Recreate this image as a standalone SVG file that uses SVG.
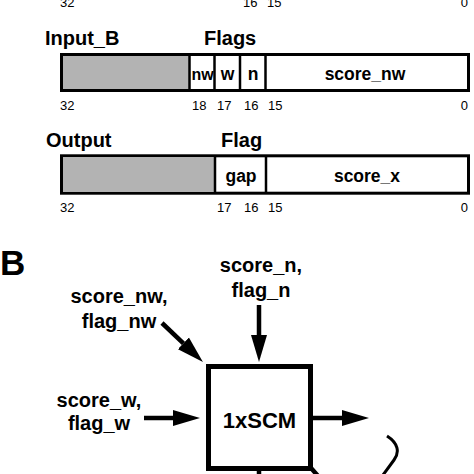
<svg xmlns="http://www.w3.org/2000/svg" width="474" height="474" viewBox="0 0 474 474">
<defs>
<style>
text{font-family:"Liberation Sans",Arial,sans-serif;fill:#000}
.t{font-weight:bold;font-size:20px}
.c{font-weight:bold;font-size:17.5px;text-anchor:middle}
.n{font-size:13px}
.bar{fill:#fff;stroke:#000;stroke-width:3}
.gray{fill:#b3b3b3;stroke:none}
.div{stroke:#000;stroke-width:2.5}
.conn{stroke:#000;stroke-width:4.5;fill:none}
</style>
<marker id="ah" markerUnits="userSpaceOnUse" markerWidth="28" markerHeight="17" refX="0" refY="8" orient="auto" viewBox="0 0 28 16">
<path d="M0,0 L27,8 L0,16 z" fill="#000"/>
</marker>
</defs>
<rect width="474" height="474" fill="#fff"/>

<g id="row-top">
<text class="n" x="60" y="7">32</text>
<text class="n" x="243" y="7">16</text>
<text class="n" x="267" y="7">15</text>
<text class="n" x="468" y="7" text-anchor="end">0</text>
</g>

<g id="input-b">
<text class="t" x="45" y="45">Input_B</text>
<text class="t" x="204" y="45">Flags</text>
<rect class="bar" x="61.5" y="54.5" width="407" height="36"/>
<rect class="gray" x="63" y="56" width="126" height="33"/>
<line class="div" x1="189.5" y1="54.5" x2="189.5" y2="90.5"/>
<line class="div" x1="214.5" y1="54.5" x2="214.5" y2="90.5"/>
<line class="div" x1="240" y1="54.5" x2="240" y2="90.5"/>
<line class="div" x1="265.5" y1="54.5" x2="265.5" y2="90.5"/>
<text class="c" x="202.5" y="80" style="font-size:16px">nw</text>
<text class="c" x="227.5" y="80">w</text>
<text class="c" x="253" y="80">n</text>
<text class="c" x="365" y="80">score_nw</text>
<text class="n" x="60" y="110">32</text>
<text class="n" x="192" y="110">18</text>
<text class="n" x="217" y="110">17</text>
<text class="n" x="244" y="110">16</text>
<text class="n" x="268" y="110">15</text>
<text class="n" x="468" y="110" text-anchor="end">0</text>
</g>

<g id="output">
<text class="t" x="46" y="147">Output</text>
<text class="t" x="221" y="147">Flag</text>
<rect class="bar" x="61.5" y="155.8" width="407" height="37.4"/>
<rect class="gray" x="63" y="157.3" width="151" height="34.4"/>
<line class="div" x1="215" y1="155.8" x2="215" y2="193.2"/>
<line class="div" x1="266" y1="155.8" x2="266" y2="193.2"/>
<text class="c" x="241" y="182">gap</text>
<text class="c" x="367" y="182">score_x</text>
<text class="n" x="60" y="212">32</text>
<text class="n" x="217" y="212">17</text>
<text class="n" x="244" y="212">16</text>
<text class="n" x="268" y="212">15</text>
<text class="n" x="468" y="212" text-anchor="end">0</text>
</g>

<g id="label-b">
<text x="0" y="275" style="font-weight:bold;font-size:35px">B</text>
</g>

<g id="in-nw">
<text class="t" x="119" y="303" text-anchor="middle">score_nw,</text>
<text class="t" x="119" y="328" text-anchor="middle">flag_nw</text>
</g>
<g id="in-n">
<text class="t" x="261" y="272" text-anchor="middle">score_n,</text>
<text class="t" x="261" y="297" text-anchor="middle">flag_n</text>
</g>
<g id="in-w">
<text class="t" x="99" y="407" text-anchor="middle">score_w,</text>
<text class="t" x="99" y="430" text-anchor="middle">flag_w</text>
</g>

<g id="scm">
<rect x="208.5" y="366.5" width="102" height="102" fill="#fff" stroke="#000" stroke-width="5"/>
<text x="259.5" y="428" text-anchor="middle" style="font-weight:bold;font-size:22px">1xSCM</text>
</g>

<g id="connectors">
<line class="conn" x1="162" y1="323" x2="183.4" y2="343.4" marker-end="url(#ah)"/>
<line class="conn" x1="259" y1="305" x2="259" y2="335" marker-end="url(#ah)"/>
<line class="conn" x1="144" y1="418" x2="173" y2="418" marker-end="url(#ah)"/>
<line class="conn" x1="312" y1="418" x2="342" y2="418" marker-end="url(#ah)"/>
<line class="conn" x1="259" y1="470" x2="259" y2="476"/>
<line class="conn" x1="311" y1="468" x2="318" y2="476"/>
<path d="M387,436 C398,443 400,452 394,460 L383,475" fill="none" stroke="#000" stroke-width="3"/>
</g>
</svg>
